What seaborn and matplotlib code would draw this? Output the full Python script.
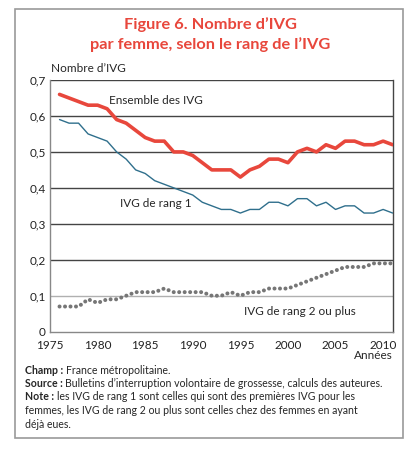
import numpy as np
import pandas as pd
import matplotlib
matplotlib.use('Agg')
import matplotlib.pyplot as plt
import seaborn as sns
from matplotlib.patches import Rectangle

# Données
annees = list(range(1976, 2012))
ensemble = [0.66, 0.65, 0.64, 0.63, 0.63, 0.62, 0.59, 0.58, 0.56, 0.54,
            0.53, 0.53, 0.50, 0.50, 0.49, 0.47, 0.45, 0.45, 0.45, 0.43,
            0.45, 0.46, 0.48, 0.48, 0.47, 0.50, 0.51, 0.50, 0.52, 0.51,
            0.53, 0.53, 0.52, 0.52, 0.53, 0.52]
rang1 = [0.59, 0.58, 0.58, 0.55, 0.54, 0.53, 0.50, 0.48, 0.45, 0.44,
         0.42, 0.41, 0.40, 0.39, 0.38, 0.36, 0.35, 0.34, 0.34, 0.33,
         0.34, 0.34, 0.36, 0.36, 0.35, 0.37, 0.37, 0.35, 0.36, 0.34,
         0.35, 0.35, 0.33, 0.33, 0.34, 0.33]
rang2 = [0.07, 0.07, 0.07, 0.09, 0.08, 0.09, 0.09, 0.10, 0.11, 0.11,
         0.11, 0.12, 0.11, 0.11, 0.11, 0.11, 0.10, 0.10, 0.11, 0.10,
         0.11, 0.11, 0.12, 0.12, 0.12, 0.13, 0.14, 0.15, 0.16, 0.17,
         0.18, 0.18, 0.18, 0.19, 0.19, 0.19]

x_ticks = [1975, 1980, 1985, 1990, 1995, 2000, 2005, 2010]
y_ticks = [0, 0.1, 0.2, 0.3, 0.4, 0.5, 0.6, 0.7]
y_tick_labels = ["0", "0,1", "0,2", "0,3", "0,4", "0,5", "0,6", "0,7"]

df = pd.DataFrame({'annee': annees, 'ensemble': ensemble, 'rang1': rang1, 'rang2': rang2})

sns.set_style('white')
plt.rcParams['font.family'] = ['Lato', 'DejaVu Sans']

rouge = '#e8473c'
bleu = '#2f6f8c'
gris = '#767676'

fig = plt.figure(figsize=(4.12, 4.58), dpi=100)
ax = fig.add_axes([0.1214, 0.2758, 0.953 - 0.1214, 0.8253 - 0.2758])

# cadre extérieur
fig.patches.append(Rectangle((15 / 412, 1 - 438 / 458), 388 / 412, 429 / 458,
                             transform=fig.transFigure, fill=False,
                             edgecolor='#9a9a9a', linewidth=1.2))

# grille horizontale
for y in y_ticks[1:]:
    c = '#b0b0b0' if y == 0.1 else '#444444'
    ax.axhline(y, color=c, linewidth=1.0, zorder=0)

sns.lineplot(data=df, x='annee', y='rang2', ax=ax, color=gris, linewidth=2.9,
             linestyle=(0, (0.01, 1.35)), dash_capstyle='round', zorder=3)
sns.lineplot(data=df, x='annee', y='rang1', ax=ax, color=bleu, linewidth=1.0, zorder=3)
sns.lineplot(data=df, x='annee', y='ensemble', ax=ax, color=rouge, linewidth=2.6, zorder=4)
ax.lines[-3].set_dash_capstyle('round')

ax.set_xlim(1975, 2011)
ax.set_ylim(0, 0.7)
ax.set_xticks(x_ticks)
ax.set_yticks(y_ticks)
ax.set_yticklabels(y_tick_labels)
ax.set_xlabel('')
ax.set_ylabel('')
ax.tick_params(axis='both', labelsize=8.5, colors='#222222', length=0, pad=3)
ax.tick_params(axis='x', length=3, color='#888888', direction='out')

for s in ['left', 'bottom']:
    ax.spines[s].set_color('#888888')
    ax.spines[s].set_linewidth(1.0)
ax.spines['top'].set_visible(False)
ax.spines['right'].set_color('#444444')
ax.spines['right'].set_linewidth(1.0)

ax.text(1975.1, 0.718, 'Nombre d\u2019IVG', fontsize=8.5, ha='left', va='bottom')
ax.text(2011, -0.052, 'Années', fontsize=8.5, ha='right', va='top')
ax.text(1986.1, 0.642, 'Ensemble des IVG', fontsize=8.5, ha='center', va='center')
ax.text(1986.1, 0.357, 'IVG de rang 1', fontsize=8.5, ha='center', va='center')
ax.text(2001.3, 0.057, 'IVG de rang 2 ou plus', fontsize=8.5, ha='center', va='center')

fig.text(0.51, 1 - 25 / 458, 'Figure 6. Nombre d\u2019IVG', fontsize=11.8, fontweight='bold',
         color=rouge, ha='center', va='center')
fig.text(0.51, 1 - 45 / 458, 'par femme, selon le rang de l\u2019IVG', fontsize=11.8,
         fontweight='bold', color=rouge, ha='center', va='center')

notes = [
    ('Champ : ', 'France métropolitaine.'),
    ('Source : ', 'Bulletins d\u2019interruption volontaire de grossesse, calculs des auteures.'),
    ('Note : ', 'les IVG de rang 1 sont celles qui sont des premières IVG pour les'),
    ('', 'femmes, les IVG de rang 2 ou plus sont celles chez des femmes en ayant'),
    ('', 'déjà eues.'),
]
renderer = fig.canvas.get_renderer()
y_pix = [370, 383.5, 397, 410.5, 424]
for (gras, reste), yp in zip(notes, y_pix):
    x0 = 25 / 412
    yf = 1 - yp / 458
    if gras:
        t = fig.text(x0, yf, gras, fontsize=7.6, fontweight='bold', ha='left', va='center')
        bb = t.get_window_extent(renderer)
        x0 = bb.x1 / fig.bbox.width
    fig.text(x0, yf, reste, fontsize=7.6, ha='left', va='center')

fig.savefig('out.png', dpi=100)
